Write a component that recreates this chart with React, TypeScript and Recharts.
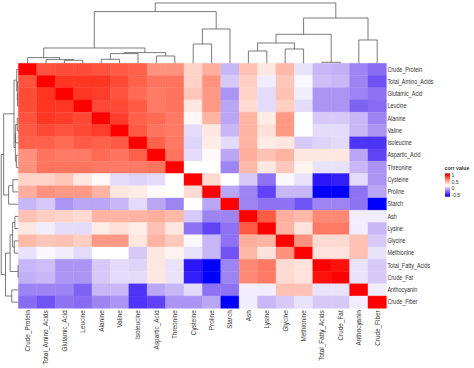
import { ComposedChart, XAxis, YAxis, Scatter, ReferenceArea, ReferenceLine } from "recharts";

// variables, in clustered order (same for rows and columns)
const VARS = [
    "Crude_Protein", "Total_Amino_Acids", "Glutamic_Acid", "Leucine", "Alanine",
    "Valine", "Isoleucine", "Aspartic_Acid", "Threonine", "Cysteine",
    "Proline", "Starch", "Ash", "Lysine", "Glycine",
    "Methionine", "Total_Fatty_Acids", "Crude_Fat", "Anthocyanin", "Crude_Fiber",
];

// lower triangle of the correlation matrix (row i, columns 0..i-1)
const LOWER: number[][] = [
    [],
    [0.82],
    [0.84, 0.9],
    [0.84, 0.9, 0.9],
    [0.82, 0.9, 0.88, 0.85],
    [0.8, 0.85, 0.82, 0.85, 0.88],
    [0.78, 0.78, 0.75, 0.8, 0.78, 0.8],
    [0.62, 0.72, 0.7, 0.7, 0.75, 0.72, 0.78],
    [0.62, 0.72, 0.72, 0.72, 0.7, 0.7, 0.7, 0.72],
    [0.38, 0.38, 0.43, 0.3, 0.23, 0.1, 0.08, 0.1, 0.2],
    [0.52, 0.62, 0.6, 0.6, 0.5, 0.3, 0.28, 0.22, 0.2, 0.35],
    [0.0, 0.05, -0.1, -0.05, -0.05, 0.0, 0.1, -0.05, -0.15, 0.2, -0.05],
    [0.45, 0.4, 0.38, 0.35, 0.5, 0.5, 0.5, 0.52, 0.48, 0.05, -0.15, -0.15],
    [0.3, 0.15, 0.1, 0.1, 0.28, 0.33, 0.28, 0.45, 0.3, -0.2, -0.35, -0.2, 0.8],
    [0.48, 0.43, 0.45, 0.4, 0.6, 0.6, 0.3, 0.5, 0.42, 0.18, 0.0, -0.2, 0.52, 0.5],
    [0.12, 0.18, 0.15, 0.1, 0.2, 0.2, 0.05, 0.3, 0.25, 0.12, 0.0, -0.3, 0.48, 0.32, 0.62],
    [0.0, 0.02, -0.1, -0.1, 0.05, 0.1, 0.08, 0.3, 0.12, -0.5, -0.6, -0.15, 0.65, 0.7, 0.35, 0.32],
    [-0.02, 0.0, -0.1, -0.1, 0.05, 0.1, 0.1, 0.3, 0.12, -0.48, -0.6, -0.15, 0.65, 0.7, 0.35, 0.32, 0.98],
    [-0.15, -0.15, -0.15, -0.25, 0.0, 0.0, -0.4, -0.05, 0.0, 0.1, -0.2, -0.2, 0.15, 0.15, 0.45, 0.45, 0.12, 0.12],
    [-0.22, -0.3, -0.2, -0.22, -0.15, -0.1, -0.4, -0.35, -0.1, -0.1, -0.05, -0.6, 0.15, 0.0, 0.05, 0.12, 0.05, 0.05, 0.15],
];

// hierarchical clustering: [left, right, merge height]; leaves are indexes into VARS
type Node = number | [Node, Node, number];
const TREE: Node = [
    [
        [
            [0, [1, [2, 3, 3.0], 3.7], 5.7],
            [[[4, 5, 4.0], 6, 9.7], [7, 8, 7.3], 10.7],
            15.3,
        ],
        [[9, 10, 19.3], 11, 34.3],
        51.7,
    ],
    [
        [[[12, 13, 12.3], [14, 15, 14.3], 20.3], [16, 17, 1.0], 29.0],
        [18, 19, 23.3],
        45.3,
    ],
    60.3,
];

const LEGEND_TICKS = [1, 0.5, 0, -0.5];

const MIN_V = -0.6;
const MAX_V = 1;
const MID_V = 0.2;

const W = 474;
const H = 368;
const ROW_PX = 12.25;
const ABOVE = 5.167; // row units reserved for the column dendrogram
const LEFT_K = 0.285 / 18.4;
const FONT = "Liberation Sans, Arial, sans-serif";

function corr(r: number, c: number) {
    if (r === c) return 1;
    return r > c ? LOWER[r][c] : LOWER[c][r];
}

function color(v: number) {
    if (v >= MID_V) {
        const t = Math.min(1, (v - MID_V) / (MAX_V - MID_V));
        const g = Math.round(255 * Math.pow(1 - t, 0.75));
        const b = Math.round(255 * Math.pow(1 - t, 0.95));
        return `rgb(255,${g},${b})`;
    }
    const t = Math.min(1, (MID_V - v) / (MID_V - MIN_V));
    const r = Math.round(255 * Math.pow(1 - t, 0.85));
    const g = Math.round(255 * Math.pow(1 - t, 1.15));
    const b = Math.round(255 - 48 * t * (1 - t));
    return `rgb(${r},${g},${b})`;
}

type Seg = { p1: [number, number]; p2: [number, number] };

function walk(node: Node, segs: Seg[]): { pos: number; h: number } {
    if (typeof node === "number") return { pos: node + 0.5, h: 0 };
    const a = walk(node[0], segs);
    const b = walk(node[1], segs);
    const h = node[2];
    segs.push({ p1: [a.pos, a.h], p2: [a.pos, h] });
    segs.push({ p1: [b.pos, b.h], p2: [b.pos, h] });
    segs.push({ p1: [a.pos, h], p2: [b.pos, h] });
    return { pos: (a.pos + b.pos) / 2, h };
}

const treeSegs: Seg[] = [];
walk(TREE, treeSegs);

const cells = VARS.flatMap((_, r) => VARS.map((__, c) => ({ r, c, v: corr(r, c), x: c + 0.5, y: r + 0.5 })));
const ticks = VARS.map((_, i) => i + 0.5);

const BottomTick = ({ x, y, payload }: any) => (
    <text
        x={x}
        y={y}
        transform={`rotate(-90, ${x}, ${y})`}
        textAnchor="end"
        dominantBaseline="central"
        fontSize={6.4}
        fill="#333"
        fontFamily={FONT}
    >
        {VARS[Math.floor(payload.value)]}
    </text>
);

const RightTick = ({ x, y, payload }: any) => (
    <text
        transform={`translate(${x}, ${y}) scale(0.85, 1)`}
        textAnchor="start"
        dominantBaseline="central"
        fontSize={6.4}
        fill="#333"
        fontFamily={FONT}
    >
        {VARS[Math.floor(payload.value)]}
    </text>
);

function Legend() {
    // bar spans a little beyond the data range, as in the original key
    const top = 173.3;
    const bottom = 196.7;
    const hi = 1.13;
    const lo = -0.63;
    const yOf = (v: number) => top + ((hi - v) / (hi - lo)) * (bottom - top);
    const stops = [1.13, 1, 0.8, 0.6, 0.4, 0.2, 0, -0.2, -0.4, -0.63];
    return (
        <svg width={W} height={H} style={{ position: "absolute", left: 0, top: 0, pointerEvents: "none" }}>
            <defs>
                <linearGradient id="corrGrad" x1="0" y1="0" x2="0" y2="1">
                    {stops.map((v) => (
                        <stop key={v} offset={(hi - v) / (hi - lo)} stopColor={color(v)} />
                    ))}
                </linearGradient>
            </defs>
            <text x={444.5} y={169.5} fontSize={5.2} fontWeight="bold" fill="#333" fontFamily={FONT}>
                corr value
            </text>
            <rect x={445} y={top} width={5} height={bottom - top} fill="url(#corrGrad)" />
            {LEGEND_TICKS.map((v) => (
                <text key={v} x={451.5} y={yOf(v)} fontSize={5} fill="#333" dominantBaseline="central" fontFamily={FONT}>
                    {v}
                </text>
            ))}
        </svg>
    );
}

export default function App() {
    return (
        <div style={{ position: "relative", width: W, height: H, background: "#fff" }}>
            <style>{"body{margin:0;}"}</style>
            <ComposedChart width={W} height={H} margin={{ top: 0, right: 0, bottom: 0, left: 0 }}>
                <XAxis
                    type="number"
                    dataKey="x"
                    domain={[-1, 20]}
                    allowDataOverflow
                    ticks={ticks}
                    interval={0}
                    height={H - (20 + ABOVE) * ROW_PX}
                    axisLine={false}
                    tickLine={false}
                    tickSize={1}
                    tickMargin={1}
                    tick={<BottomTick />}
                />
                <YAxis
                    type="number"
                    dataKey="y"
                    domain={[-ABOVE, 20]}
                    allowDataOverflow
                    reversed
                    orientation="right"
                    width={W - 21 * 18.4}
                    ticks={ticks}
                    interval={0}
                    axisLine={false}
                    tickLine={false}
                    tickSize={0}
                    tickMargin={1}
                    tick={<RightTick />}
                />
                {cells.map((d) => (
                    <ReferenceArea
                        key={`${d.r}-${d.c}`}
                        x1={d.c}
                        x2={d.c + 1}
                        y1={d.r}
                        y2={d.r + 1}
                        fill={color(d.v)}
                        fillOpacity={1}
                        stroke={color(d.v)}
                        strokeWidth={0.4}
                        ifOverflow="visible"
                    />
                ))}
                {treeSegs.map((s, i) => (
                    <ReferenceLine
                        key={`t${i}`}
                        segment={[
                            { x: s.p1[0], y: -s.p1[1] / ROW_PX },
                            { x: s.p2[0], y: -s.p2[1] / ROW_PX },
                        ]}
                        stroke="#595959"
                        strokeWidth={0.8}
                        ifOverflow="visible"
                    />
                ))}
                {treeSegs.map((s, i) => (
                    <ReferenceLine
                        key={`l${i}`}
                        segment={[
                            { x: -s.p1[1] * LEFT_K, y: s.p1[0] },
                            { x: -s.p2[1] * LEFT_K, y: s.p2[0] },
                        ]}
                        stroke="#595959"
                        strokeWidth={0.8}
                        ifOverflow="visible"
                    />
                ))}
                <Scatter data={cells} isAnimationActive={false} shape={() => <g />} />
            </ComposedChart>
            <Legend />
        </div>
    );
}
